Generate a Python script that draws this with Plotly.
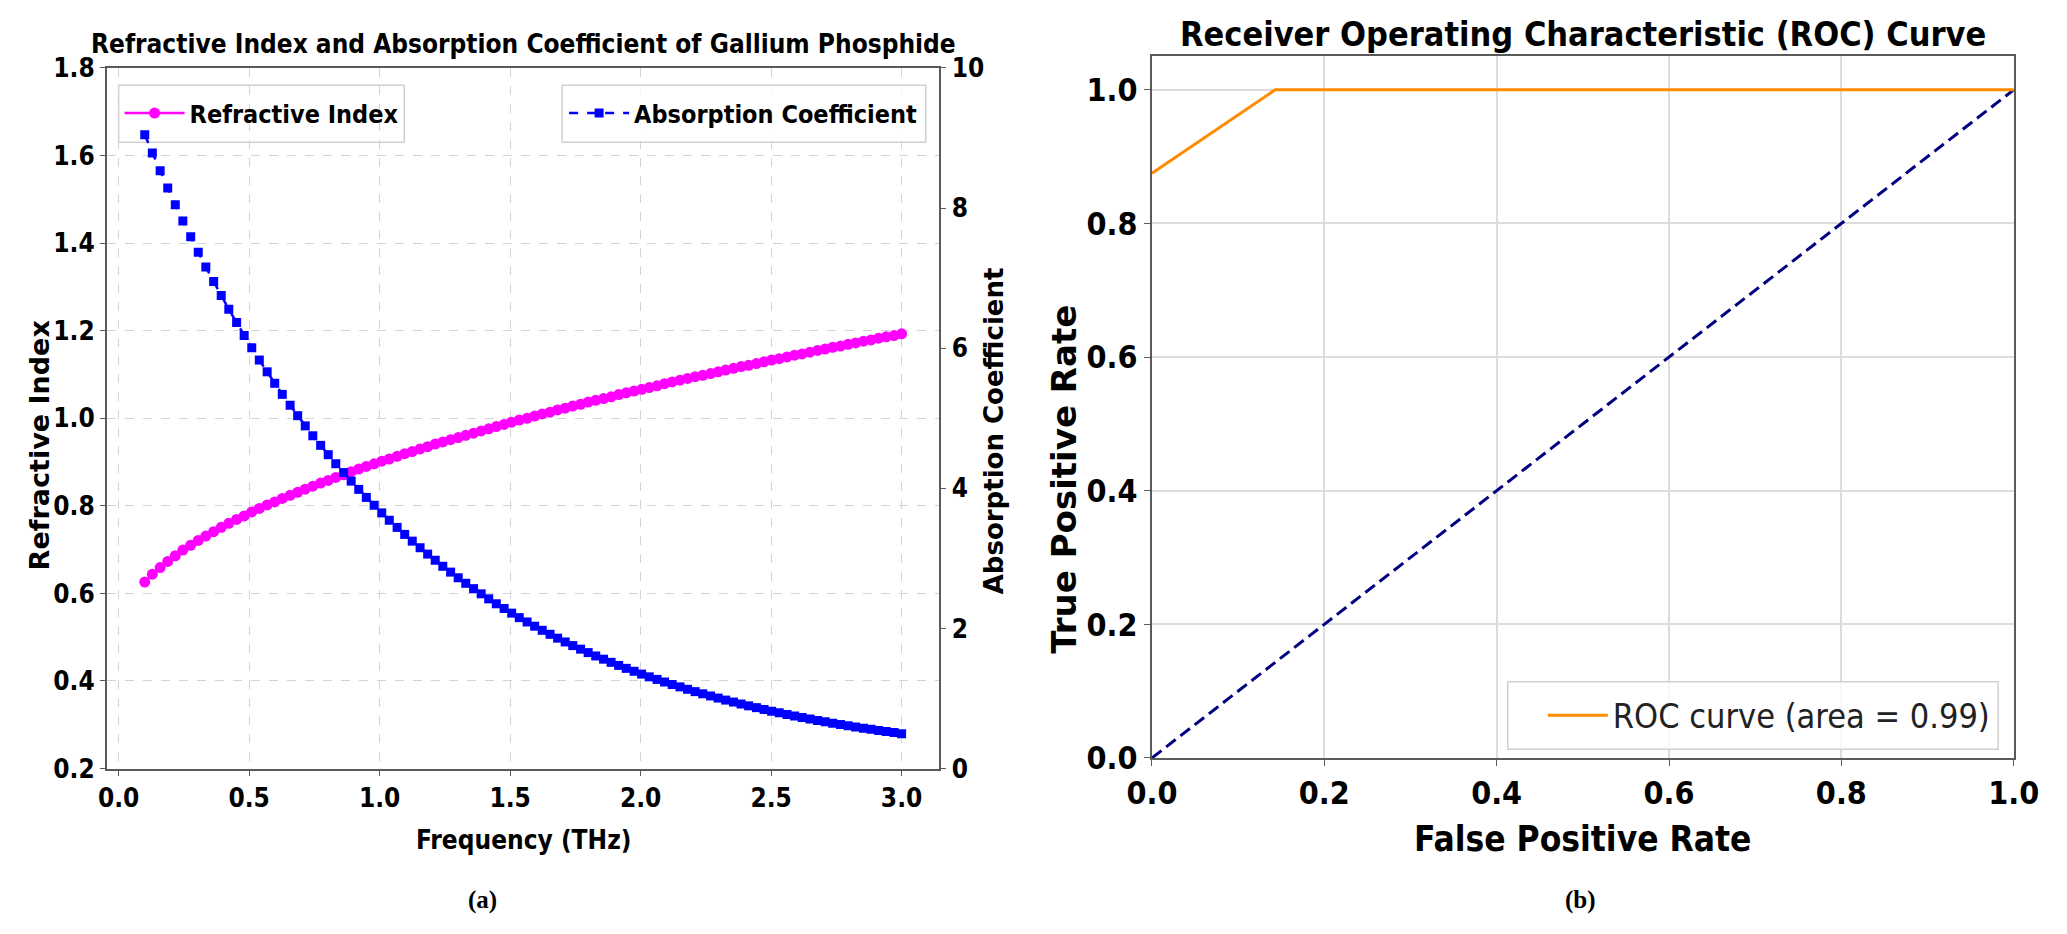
import plotly.graph_objects as go

# ---------------- data ----------------
freq_thz = [0.100, 0.129, 0.159, 0.188, 0.217, 0.246, 0.276, 0.305, 0.334, 0.364,
            0.393, 0.422, 0.452, 0.481, 0.510, 0.539, 0.569, 0.598, 0.627, 0.657,
            0.686, 0.715, 0.744, 0.774, 0.803, 0.832, 0.862, 0.891, 0.920, 0.949,
            0.979, 1.008, 1.037, 1.067, 1.096, 1.125, 1.155, 1.184, 1.213, 1.242,
            1.272, 1.301, 1.330, 1.360, 1.389, 1.418, 1.447, 1.477, 1.506, 1.535,
            1.565, 1.594, 1.623, 1.653, 1.682, 1.711, 1.740, 1.770, 1.799, 1.828,
            1.858, 1.887, 1.916, 1.945, 1.975, 2.004, 2.033, 2.063, 2.092, 2.121,
            2.151, 2.180, 2.209, 2.238, 2.268, 2.297, 2.326, 2.356, 2.385, 2.414,
            2.444, 2.473, 2.502, 2.531, 2.561, 2.590, 2.619, 2.649, 2.678, 2.707,
            2.736, 2.766, 2.795, 2.824, 2.854, 2.883, 2.912, 2.941, 2.971, 3.000]

refractive_index = [0.626, 0.644, 0.659, 0.673, 0.686, 0.699, 0.710, 0.721, 0.731, 0.741,
                    0.751, 0.760, 0.769, 0.777, 0.786, 0.794, 0.802, 0.809, 0.817, 0.824,
                    0.831, 0.838, 0.845, 0.852, 0.858, 0.865, 0.871, 0.878, 0.884, 0.890,
                    0.896, 0.902, 0.907, 0.913, 0.919, 0.924, 0.930, 0.935, 0.941, 0.946,
                    0.951, 0.956, 0.961, 0.966, 0.971, 0.976, 0.981, 0.986, 0.991, 0.996,
                    1.000, 1.005, 1.010, 1.014, 1.019, 1.023, 1.028, 1.032, 1.037, 1.041,
                    1.045, 1.049, 1.054, 1.058, 1.062, 1.066, 1.070, 1.074, 1.079, 1.083,
                    1.087, 1.091, 1.095, 1.098, 1.102, 1.106, 1.110, 1.114, 1.118, 1.121,
                    1.125, 1.129, 1.133, 1.136, 1.140, 1.144, 1.147, 1.151, 1.155, 1.158,
                    1.162, 1.165, 1.169, 1.172, 1.176, 1.179, 1.183, 1.186, 1.189, 1.193]

absorption_coeff = [9.048, 8.787, 8.534, 8.287, 8.048, 7.816, 7.590, 7.371, 7.158, 6.952,
                    6.751, 6.556, 6.367, 6.183, 6.005, 5.831, 5.663, 5.499, 5.341, 5.186,
                    5.037, 4.891, 4.750, 4.613, 4.480, 4.351, 4.225, 4.103, 3.985, 3.870,
                    3.758, 3.649, 3.544, 3.442, 3.342, 3.246, 3.152, 3.061, 2.973, 2.887,
                    2.804, 2.723, 2.644, 2.568, 2.494, 2.422, 2.352, 2.284, 2.218, 2.154,
                    2.092, 2.032, 1.973, 1.916, 1.861, 1.807, 1.755, 1.704, 1.655, 1.607,
                    1.561, 1.516, 1.472, 1.430, 1.388, 1.348, 1.309, 1.272, 1.235, 1.199,
                    1.165, 1.131, 1.098, 1.067, 1.036, 1.006, 0.977, 0.949, 0.921, 0.895,
                    0.869, 0.844, 0.819, 0.796, 0.773, 0.750, 0.729, 0.708, 0.687, 0.667,
                    0.648, 0.629, 0.611, 0.594, 0.576, 0.560, 0.544, 0.528, 0.513, 0.498]

roc_fpr = [0.0, 0.143, 1.0]
roc_tpr = [0.875, 1.0, 1.0]
chance_fpr = [0.0, 1.0]
chance_tpr = [0.0, 1.0]

left_x_ticks = [0.0, 0.5, 1.0, 1.5, 2.0, 2.5, 3.0]
left_y_ticks = [0.2, 0.4, 0.6, 0.8, 1.0, 1.2, 1.4, 1.6, 1.8]
right_y2_ticks = [0, 2, 4, 6, 8, 10]
roc_ticks = [0.0, 0.2, 0.4, 0.6, 0.8, 1.0]

# ---------------- layout helpers ----------------
W, H = 2067, 934
def px(x):
    return x / W
def py(y):
    return 1 - y / H

# left panel plot area in page pixels
LX0, LX1, LY0, LY1 = 83, 937, 55, 782

COND = "DejaVu Sans Condensed, DejaVu Sans, sans-serif"
DEJ = "DejaVu Sans, sans-serif"
SERIF = "Liberation Serif, Times New Roman, serif"
SPINE = "#5a5a5a"

fig = go.Figure()

# Left panel traces
fig.add_trace(go.Scatter(
    x=freq_thz, y=refractive_index, name="Refractive Index",
    mode="lines+markers", line=dict(color="#ff00ff", width=2.5),
    marker=dict(symbol="circle", size=11, color="#ff00ff"),
    xaxis="x", yaxis="y", legend="legend"))
fig.add_trace(go.Scatter(
    x=freq_thz, y=absorption_coeff, name="Absorption Coefficient",
    mode="lines+markers", line=dict(color="#0000ff", width=2.5, dash="dash"),
    marker=dict(symbol="square", size=9, color="#0000ff"),
    xaxis="x", yaxis="y2", legend="legend2"))

# Right panel traces
fig.add_trace(go.Scatter(
    x=chance_fpr, y=chance_tpr, mode="lines", showlegend=False,
    line=dict(color="#000080", width=3, dash="12px,6px"),
    xaxis="x2", yaxis="y3"))
fig.add_trace(go.Scatter(
    x=roc_fpr, y=roc_tpr, mode="lines", name="ROC curve (area = 0.99)",
    line=dict(color="#ff8c00", width=3),
    xaxis="x2", yaxis="y3", legend="legend3"))

left_tick_font = dict(family=COND, size=26, color="black", weight="bold")
right_tick_font = dict(family=COND, size=32, color="black", weight="bold")
NOBOX = dict(bgcolor="rgba(0,0,0,0)", borderwidth=0, itemwidth=60)

fig.update_layout(
    width=W, height=H, margin=dict(l=0, r=0, t=0, b=0),
    paper_bgcolor="white", plot_bgcolor="white",
    xaxis=dict(domain=[px(LX0), px(LX1)], range=[-0.045, 3.145],
               tickvals=left_x_ticks, tickformat=".1f", tickfont=left_tick_font,
               showline=True, linecolor=SPINE, linewidth=2, mirror=True,
               ticks="outside", ticklen=5, tickcolor=SPINE,
               showgrid=True, gridcolor="#d4d4d4", gridwidth=1, griddash="dash",
               zeroline=False, anchor="y"),
    yaxis=dict(domain=[py(LY1), py(LY0)], range=[0.2, 1.8],
               tickvals=left_y_ticks, tickformat=".1f", tickfont=left_tick_font,
               showline=True, linecolor=SPINE, linewidth=2, mirror=True,
               ticks="outside", ticklen=5, tickcolor=SPINE,
               showgrid=True, gridcolor="#d4d4d4", gridwidth=1, griddash="dash",
               zeroline=False, anchor="x"),
    yaxis2=dict(range=[0, 10], overlaying="y", side="right", anchor="x",
                tickvals=right_y2_ticks, tickfont=left_tick_font,
                showline=True, linecolor=SPINE, linewidth=2,
                ticks="outside", ticklen=5, tickcolor=SPINE,
                showgrid=False, zeroline=False),
    xaxis2=dict(domain=[px(1155), px(2039)], range=[0, 1],
                tickvals=roc_ticks, tickformat=".1f", tickfont=right_tick_font,
                showline=True, linecolor=SPINE, linewidth=2, mirror=True,
                ticks="outside", ticklen=6, tickcolor=SPINE,
                showgrid=True, gridcolor="#dcdcdc", gridwidth=1.5,
                zeroline=False, anchor="y3"),
    yaxis3=dict(domain=[py(771), py(43)], range=[0, 1.05],
                tickvals=roc_ticks, tickformat=".1f", tickfont=right_tick_font,
                showline=True, linecolor=SPINE, linewidth=2, mirror=True,
                ticks="outside", ticklen=6, tickcolor=SPINE,
                showgrid=True, gridcolor="#dcdcdc", gridwidth=1.5,
                zeroline=False, anchor="x2"),
    legend=dict(x=px(96), y=py(102), xanchor="left", yanchor="middle",
                font=dict(family=COND, size=25, color="black", weight="bold"), **NOBOX),
    legend2=dict(x=px(552), y=py(102), xanchor="left", yanchor="middle",
                 font=dict(family=COND, size=25, color="black", weight="bold"), **NOBOX),
    legend3=dict(x=px(1556), y=py(727), xanchor="left", yanchor="middle",
                 font=dict(family=COND, size=34, color="#222"), **NOBOX),
)

# legend frame of the first (lower) axes: drawn under the absorption curve
def dom_x(p):
    return (p - LX0) / (LX1 - LX0)
def dom_y(p):
    return (LY1 - p) / (LY1 - LY0)

fig.add_shape(type="rect", xref="x domain", yref="y domain", layer="below",
              x0=dom_x(95), x1=dom_x(388), y0=dom_y(132), y1=dom_y(73),
              fillcolor="rgba(255,255,255,0.9)", line=dict(color="#d0d0d0", width=1.5))

# legend frames of the twin axes and the ROC panel (on top)
for (x0, y0, x1, y1) in [(550, 73, 923, 132), (1520, 692, 2023, 762)]:
    fig.add_shape(type="rect", xref="paper", yref="paper",
                  x0=px(x0), x1=px(x1), y0=py(y1), y1=py(y0), layer="above",
                  fillcolor="rgba(255,255,255,0.8)", line=dict(color="#d0d0d0", width=1.5))

def label(text, x, y, size, family=COND, angle=0, weight="bold", color="black"):
    fig.add_annotation(text=text, x=px(x), y=py(y), xref="paper", yref="paper",
                       xanchor="center", yanchor="middle", showarrow=False,
                       textangle=angle,
                       font=dict(family=family, size=size, color=color, weight=weight))

# Titles
label("Refractive Index and Absorption Coefficient of Gallium Phosphide", 510, 30, 26)
label("Receiver Operating Characteristic (ROC) Curve", 1597, 20, 34)
# Axis titles
label("Frequency (THz)", 510, 856, 26)
label("Refractive Index", 14, 447, 27, family=DEJ, angle=-90)
label("Absorption Coefficient", 993, 432, 26, family=DEJ, angle=-90)
label("False Positive Rate", 1597, 855, 35)
label("True Positive Rate", 1065, 482, 34, family=DEJ, angle=-90)
# Panel captions
label("(a)", 468, 918, 25, family=SERIF)
label("(b)", 1595, 918, 25, family=SERIF)

fig.write_html("out.html")
